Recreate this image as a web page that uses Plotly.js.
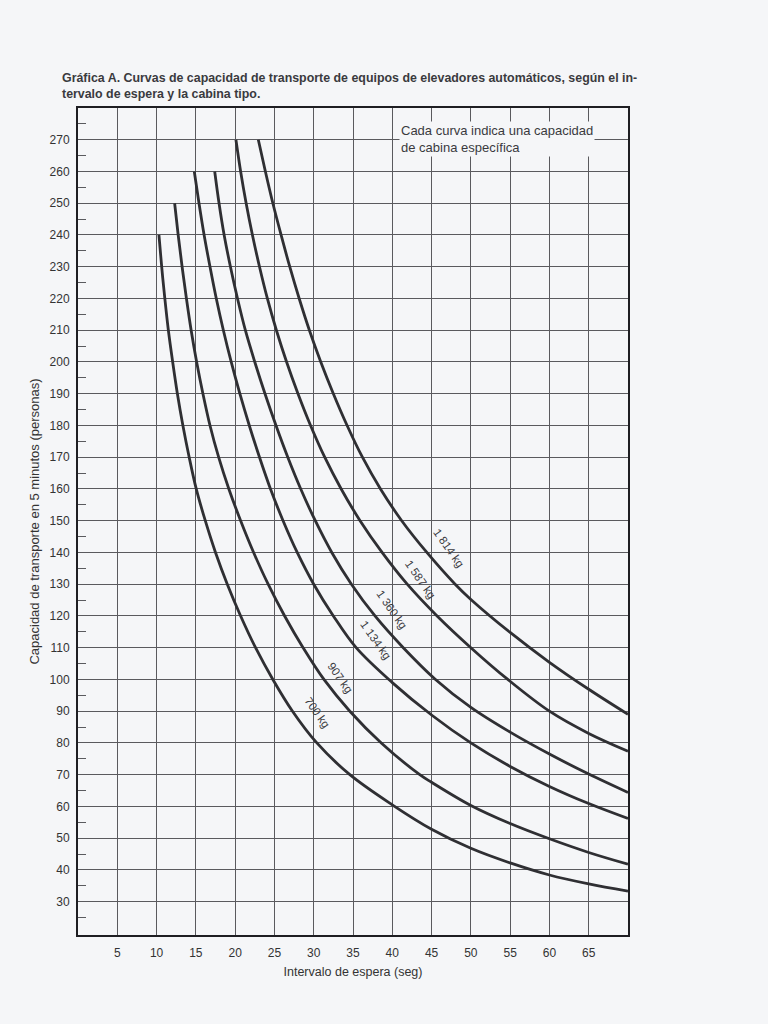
<!DOCTYPE html>
<html>
<head>
<meta charset="utf-8">
<script src="https://cdn.plot.ly/plotly-3.0.1.min.js"></script>
<style>
  html, body { margin: 0; padding: 0; background: #f5f6f8; }
  #chart { width: 768px; height: 1024px; }
</style>
</head>
<body>
<div id="chart"></div>
<script>
// ---- Data ----
const cabinas = ['700 kg', '907 kg', '1 134 kg', '1 360 kg', '1 587 kg', '1 814 kg'];

const intervalo700 = [10.3, 10.65, 11.05, 11.5, 12.05, 12.65, 13.35, 14.15, 15.05, 16.2, 17.5, 19.0, 20.7, 22.6, 24.8, 27.3, 30.4, 34.6, 40, 45, 50, 55, 60, 65, 70];
const capacidad700 = [240, 230, 220, 210, 200, 190, 180, 170, 160, 150, 140, 130, 120, 110, 100, 90, 80, 70, 60.5, 52.8, 46.8, 42.2, 38.4, 35.6, 33.3];

const intervalo907 = [12.3, 12.75, 13.25, 13.8, 14.4, 15.1, 15.9, 16.8, 17.9, 19.2, 20.7, 22.35, 24.2, 26.3, 28.65, 31.3, 34.6, 38.6, 43.5, 45, 50, 55, 60, 65, 70];
const capacidad907 = [250, 240, 230, 220, 210, 200, 190, 180, 170, 160, 150, 140, 130, 120, 110, 100, 90, 80, 70, 67.6, 60.3, 54.6, 49.8, 45.5, 41.8];

const intervalo1134 = [14.8, 15.4, 16.05, 16.8, 17.6, 18.5, 19.5, 20.6, 21.8, 23.1, 24.5, 26.1, 27.9, 30.0, 32.5, 35.4, 40, 45, 50, 55, 60, 65, 70];
const capacidad1134 = [260, 250, 240, 230, 220, 210, 200, 190, 180, 170, 160, 150, 140, 130, 120, 110, 99, 88.8, 80, 72.6, 66.3, 60.9, 56.2];

const intervalo1360 = [17.4, 17.95, 18.6, 19.4, 20.3, 21.3, 22.5, 23.8, 25.2, 26.7, 28.35, 30.2, 32.3, 34.8, 37.8, 41.4, 45.5, 50, 55, 60, 65, 70];
const capacidad1360 = [260, 250, 240, 230, 220, 210, 200, 190, 180, 170, 160, 150, 140, 130, 120, 110, 100, 91.2, 83.4, 76.5, 70.2, 64.4];

const intervalo1587 = [20.1, 20.7, 21.4, 22.2, 23.1, 24.1, 25.25, 26.55, 28.0, 29.6, 31.4, 33.5, 35.9, 38.7, 41.9, 45.7, 50.0, 54.7, 60, 65, 70];
const capacidad1587 = [270, 260, 250, 240, 230, 220, 210, 200, 190, 180, 170, 160, 150, 140, 130, 120, 110, 100, 90, 83, 77.4];

const intervalo1814 = [22.95, 23.85, 24.8, 25.85, 26.95, 28.15, 29.45, 30.9, 32.5, 34.25, 36.2, 38.5, 41.2, 44.4, 48.0, 50, 55, 60, 65, 70];
const capacidad1814 = [270, 260, 250, 240, 230, 220, 210, 200, 190, 180, 170, 160, 150, 140, 130, 125.2, 114.8, 105.4, 96.9, 89.0];

const xTicks = [5, 10, 15, 20, 25, 30, 35, 40, 45, 50, 55, 60, 65];
const yTicks = [30, 40, 50, 60, 70, 80, 90, 100, 110, 120, 130, 140, 150, 160, 170, 180, 190, 200, 210, 220, 230, 240, 250, 260, 270];

const series = [
  [intervalo700, capacidad700],
  [intervalo907, capacidad907],
  [intervalo1134, capacidad1134],
  [intervalo1360, capacidad1360],
  [intervalo1587, capacidad1587],
  [intervalo1814, capacidad1814]
];

// ---- Label placement (annotation positions, data coordinates) ----
const labelPos = [
  [30.5, 89.5],
  [33.4, 100.5],
  [37.9, 112.5],
  [40.0, 122],
  [43.5, 131.5],
  [47.2, 141.5]
];

const paperBg = '#f5f6f8';
const ink = '#2f2f33';
const gridInk = '#5a5a5e';
const fontFam = '"Liberation Sans", Arial, Helvetica, sans-serif';

const traces = series.map((s, i) => ({
  type: 'scatter',
  mode: 'lines',
  x: s[0],
  y: s[1],
  name: cabinas[i],
  line: { color: ink, width: 2.8, shape: 'spline', smoothing: 1 },
  hoverinfo: 'x+y+name',
  showlegend: false
}));

const minorY = [];
for (let v = 25; v <= 275; v += 10) minorY.push(v);

const annotations = cabinas.map((c, i) => ({
  x: labelPos[i][0],
  y: labelPos[i][1],
  xref: 'x', yref: 'y',
  text: c,
  showarrow: false,
  textangle: 55,
  font: { family: fontFam, size: 11.5, color: '#3a3a3e' }
}));

annotations.push({
  x: 0.583, xref: 'paper',
  y: 0.984, yref: 'paper',
  xanchor: 'left', yanchor: 'top',
  align: 'left',
  text: 'Cada curva indica una capacidad<br>de cabina específica',
  showarrow: false,
  bgcolor: paperBg,
  borderpad: 1,
  font: { family: fontFam, size: 13, color: '#3a3a3e' }
});

const layout = {
  width: 768,
  height: 1024,
  paper_bgcolor: paperBg,
  plot_bgcolor: paperBg,
  margin: { l: 78, r: 140, t: 108, b: 89 },
  font: { family: fontFam, color: '#333' },
  title: {
    text: '<b>Gráfica A. Curvas de capacidad de transporte de equipos de elevadores automáticos, según el in-</b><br><b>tervalo de espera y la cabina tipo.</b>',
    x: 62 / 768, xref: 'container', xanchor: 'left',
    y: 1 - 82 / 1024, yref: 'container', yanchor: 'top',
    font: { family: fontFam, size: 12.4, color: '#3a3a3e' }
  },
  xaxis: {
    range: [0, 70],
    tickmode: 'array',
    tickvals: xTicks,
    ticktext: xTicks.map(String),
    ticks: '',
    ticklabelstandoff: 6,
    showgrid: true,
    gridcolor: gridInk,
    gridwidth: 1,
    zeroline: false,
    showline: true,
    linecolor: '#1e1e22',
    linewidth: 2,
    mirror: true,
    tickfont: { family: fontFam, size: 12, color: '#333' },
    title: {
      text: 'Intervalo de espera (seg)',
      standoff: 8,
      font: { family: fontFam, size: 12.5, color: '#333' }
    },
    fixedrange: true
  },
  yaxis: {
    range: [19.5, 280],
    tickmode: 'array',
    tickvals: yTicks,
    ticktext: yTicks.map(String),
    ticks: '',
    ticklabelstandoff: 4,
    showgrid: true,
    gridcolor: gridInk,
    gridwidth: 1,
    zeroline: false,
    showline: true,
    linecolor: '#1e1e22',
    linewidth: 2,
    mirror: true,
    minor: {
      tickmode: 'array',
      tickvals: minorY,
      ticks: 'inside',
      ticklen: 8,
      tickwidth: 1,
      tickcolor: gridInk,
      showgrid: false
    },
    tickfont: { family: fontFam, size: 12, color: '#333' },
    title: {
      text: 'Capacidad de transporte en 5 minutos (personas)',
      standoff: 7,
      font: { family: fontFam, size: 13, color: '#333' }
    },
    fixedrange: true
  },
  annotations: annotations,
  showlegend: false
};

Plotly.newPlot('chart', traces, layout, { displayModeBar: false, staticPlot: true });
</script>
</body>
</html>
